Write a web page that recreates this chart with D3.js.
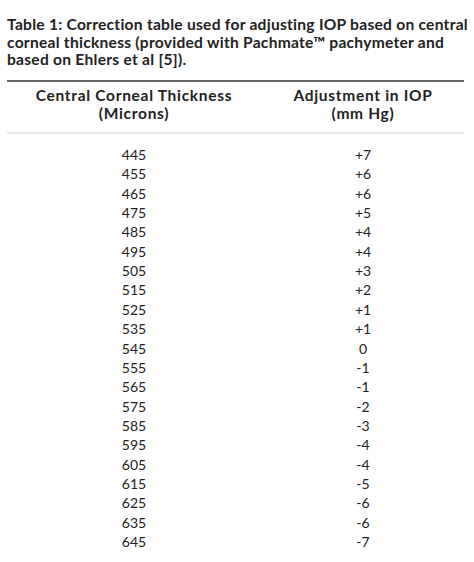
<!DOCTYPE html>
<html><head><meta charset="utf-8">
<script src="https://cdn.jsdelivr.net/npm/d3@7"></script>
<style>body{margin:0;background:#fff}</style></head>
<body><script>
const titleLines=["Table 1: Correction table used for adjusting IOP based on central","corneal thickness (provided with Pachmate™ pachymeter and","based on Ehlers et al [5])."];
const headers=[["Central Corneal Thickness","(Microns)"],["Adjustment in IOP","(mm Hg)"]];
const thickness=[445,455,465,475,485,495,505,515,525,535,545,555,565,575,585,595,605,615,625,635,645];
const adjustment=["+7","+6","+6","+5","+4","+4","+3","+2","+1","+1","0","-1","-1","-2","-3","-4","-4","-5","-6","-6","-7"];
const W=474,H=562;
const svg=d3.select("body").append("svg").attr("width",W).attr("height",H).style("font-family","Lato, 'Open Sans', sans-serif");
svg.selectAll("text.t").data(titleLines).join("text").attr("x",7).attr("y",(d,i)=>30+i*17.7)
 .attr("font-size",15.6).attr("letter-spacing",0.25).attr("font-weight","bold").attr("fill","#222").text(d=>d);
svg.append("line").attr("x1",7).attr("x2",464).attr("y1",81).attr("y2",81).attr("stroke","#666").attr("stroke-width",2);
svg.append("line").attr("x1",7).attr("x2",464).attr("y1",133).attr("y2",133).attr("stroke","#ccc").attr("stroke-width",1);
const x=d3.scalePoint().domain([0,1]).range([134,363]);
headers.forEach((h,c)=>h.forEach((t,i)=>svg.append("text").attr("x",x(c)).attr("y",101+i*17.5).attr("text-anchor","middle")
 .attr("font-size",15.5).attr("letter-spacing",0.7).attr("font-weight","bold").attr("fill","#222").text(t)));
const y=d3.scaleLinear().domain([0,thickness.length-1]).range([160,547]);
thickness.forEach((v,i)=>{
 svg.append("text").attr("x",x(0)).attr("y",y(i)).attr("text-anchor","middle").attr("font-size",14).attr("fill","#222").text(v);
 svg.append("text").attr("x",x(1)).attr("y",y(i)).attr("text-anchor","middle").attr("font-size",14).attr("fill","#222").text(adjustment[i]);
});
</script></body></html>
